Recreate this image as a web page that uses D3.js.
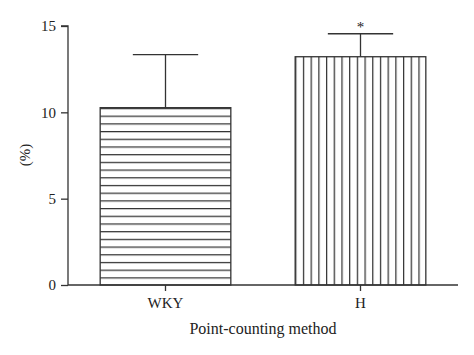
<!DOCTYPE html>
<html><head><meta charset="utf-8">
<script src="https://cdn.jsdelivr.net/npm/d3@7"></script>
<style>body{margin:0;background:#fff}svg{display:block}text{font-family:"Liberation Serif","Times New Roman",serif;fill:#222}</style>
</head><body><svg id="c" width="474" height="355"></svg>
<script>
const categories = ["WKY", "H"];
const values = [10.27, 13.22];
const errors = [3.07, 1.33];
const significance = ["", "*"];
const yTicks = [0, 5, 10, 15];
const patterns = ["horizontal", "vertical"];

const svg = d3.select("#c");
const col = "#333";
const y = d3.scaleLinear().domain([0, 15]).range([285, 26]);
const x = d3.scaleBand().domain(categories).range([68, 458]).paddingInner(0.33).paddingOuter(0.165);

// patterns
const defs = svg.append("defs");
const step = 7.7;
defs.append("pattern").attr("id", "p-horizontal").attr("patternUnits", "userSpaceOnUse")
  .attr("width", 10).attr("height", step).attr("y", 285)
  .append("line").attr("x1", 0).attr("x2", 10).attr("y1", 0.6).attr("y2", 0.6)
  .attr("stroke", col).attr("stroke-width", 1.3);
defs.append("pattern").attr("id", "p-vertical").attr("patternUnits", "userSpaceOnUse")
  .attr("width", step).attr("height", 10).attr("x", x("H"))
  .append("line").attr("y1", 0).attr("y2", 10).attr("x1", 0.6).attr("x2", 0.6)
  .attr("stroke", col).attr("stroke-width", 1.3);

// bars
const g = svg.append("g");
categories.forEach((c, i) => {
  const x0 = x(c), w = x.bandwidth();
  g.append("rect").attr("x", x0).attr("y", y(values[i])).attr("width", w).attr("height", y(0) - y(values[i]))
    .attr("fill", "#fff");
  g.append("rect").attr("x", x0).attr("y", y(values[i])).attr("width", w).attr("height", y(0) - y(values[i]))
    .attr("fill", `url(#p-${patterns[i]})`).attr("stroke", col).attr("stroke-width", 1.3);
  const cx = x0 + w / 2;
  g.append("line").attr("x1", cx).attr("x2", cx).attr("y1", y(values[i])).attr("y2", y(values[i] + errors[i]))
    .attr("stroke", col).attr("stroke-width", 1.3);
  g.append("line").attr("x1", cx - w / 4).attr("x2", cx + w / 4)
    .attr("y1", y(values[i] + errors[i])).attr("y2", y(values[i] + errors[i]))
    .attr("stroke", col).attr("stroke-width", 1.3);
  if (significance[i]) {
    g.append("text").attr("x", cx).attr("y", y(values[i] + errors[i]) - 2).attr("text-anchor", "middle")
      .attr("font-size", 15).text(significance[i]);
  }
});

// y axis
const ya = svg.append("g").attr("transform", "translate(68,0)")
  .call(d3.axisLeft(y).tickValues(yTicks).tickSize(7).tickPadding(5));
ya.select(".domain").attr("stroke", col).attr("stroke-width", 1.3).attr("d", `M-7,${y(15)}H0V${y(0)}`);
ya.selectAll(".tick line").attr("stroke", col).attr("stroke-width", 1.3);
ya.selectAll(".tick text").attr("font-size", 15).attr("font-family", "Liberation Serif").attr("fill", "#222");

// x axis
const xa = svg.append("g").attr("transform", "translate(0,285)")
  .call(d3.axisBottom(x).tickSize(6).tickPadding(6));
xa.select(".domain").attr("stroke", col).attr("stroke-width", 1.3).attr("d", "M68,0H458");
xa.selectAll(".tick line").attr("stroke", col).attr("stroke-width", 1.3);
xa.selectAll(".tick text").attr("font-size", 15).attr("font-family", "Liberation Serif").attr("fill", "#222");

svg.append("text").attr("x", 263).attr("y", 334).attr("text-anchor", "middle").attr("font-size", 16)
  .text("Point-counting method");
svg.append("text").attr("transform", "translate(30,155) rotate(-90)").attr("text-anchor", "middle")
  .attr("font-size", 15).text("(%)");
</script></body></html>
